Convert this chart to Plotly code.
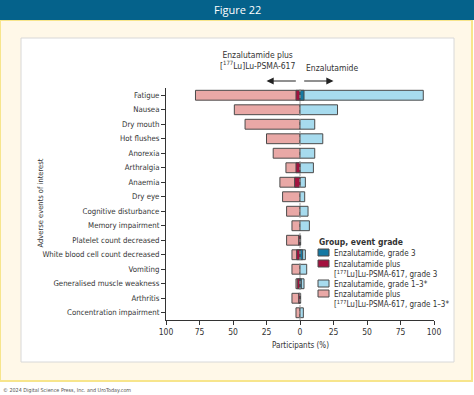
import plotly.graph_objects as go

categories = ["Fatigue", "Nausea", "Dry mouth", "Hot flushes", "Anorexia", "Arthralgia",
              "Anaemia", "Dry eye", "Cognitive disturbance", "Memory impairment",
              "Platelet count decreased", "White blood cell count decreased", "Vomiting",
              "Generalised muscle weakness", "Arthritis", "Concentration impairment"]
# Enzalutamide plus [177Lu]Lu-PSMA-617 (plotted to the left)
combo_grade13 = [78, 49, 41, 25, 20, 10.5, 15, 13, 10, 6, 10, 6, 6, 3, 6, 3]
combo_grade3 = [3, None, None, None, None, 3, 4, None, None, None, 1, 2.5, None, 2, 1, None]
# Enzalutamide alone (plotted to the right)
enza_grade13 = [92, 28, 11, 17, 11, 10, 4, 3.5, 6, 7, 0.5, 4, 5, 3, 0.5, 2.5]
enza_grade3 = [3, None, None, None, None, None, None, None, None, None, None, 2, None, 1, None, None]

tick_vals = [-100, -75, -50, -25, 0, 25, 50, 75, 100]
tick_text = ["100", "75", "50", "25", "0", "25", "50", "75", "100"]

legend_labels = ["Enzalutamide, grade 3",
                 "Enzalutamide plus<br>[<sup>177</sup>Lu]Lu-PSMA-617, grade 3",
                 "Enzalutamide, grade 1–3*",
                 "Enzalutamide plus<br>[<sup>177</sup>Lu]Lu-PSMA-617, grade 1–3*"]

FONT = "Liberation Sans Narrow, Arial Narrow, DejaVu Sans Condensed, sans-serif"
OUT = "#4a4a4a"
PINK = "#e9a8a6"
LBLUE = "#a7dbee"
DRED = "#a3123f"
DBLUE = "#1479a3"
TXT = "#333"

def neg(v):
    return [None if x is None else -x for x in v]

fig = go.Figure()
bar_specs = [(neg(combo_grade13), PINK, legend_labels[3]),
             (enza_grade13, LBLUE, legend_labels[2]),
             (neg(combo_grade3), DRED, legend_labels[1]),
             (enza_grade3, DBLUE, legend_labels[0])]
for xs, col, nm in bar_specs:
    fig.add_trace(go.Bar(y=categories, x=xs, orientation="h", width=0.68, name=nm, showlegend=False,
                         marker=dict(color=col, line=dict(color=OUT, width=1))))

L, R, T, B = 166, 40, 88, 75
W, H = 474, 395
pw, ph = W - L - R, H - T - B
def px(x): return (x - L) / pw
def py(y): return (H - B - y) / ph

shapes = [
    dict(type="rect", xref="paper", yref="paper", x0=px(0), x1=px(472), y0=py(381), y1=py(20),
         fillcolor="#fff8e8", line=dict(color="#f7e58c", width=2), layer="below"),
    dict(type="rect", xref="paper", yref="paper", x0=px(21), x1=px(454), y0=py(362), y1=py(38),
         fillcolor="white", line=dict(color="#d8d8d8", width=1), layer="below"),
    dict(type="rect", xref="paper", yref="paper", x0=px(0), x1=px(474), y0=py(20), y1=py(0),
         fillcolor="#05628b", line=dict(width=0), layer="below"),
    dict(type="line", xref="x", yref="paper", x0=0, x1=0, y0=0, y1=1,
         line=dict(color="#9a9a9a", width=1, dash="dot"), layer="above"),
]

ann = [
    dict(text="Figure 22", x=px(237), y=py(10), xref="paper", yref="paper", showarrow=False,
         font=dict(family="Open Sans", size=11, color="white"), xanchor="center", yanchor="middle"),
    dict(text="Enzalutamide plus<br>[<sup>177</sup>Lu]Lu-PSMA-617", x=-2.5, y=py(61), xref="x", yref="paper",
         showarrow=False, xanchor="right", yanchor="middle", align="center",
         font=dict(family=FONT, size=8.5, color=TXT)),
    dict(text="Enzalutamide", x=3, y=py(68), xref="x", yref="paper", showarrow=False,
         xanchor="left", yanchor="middle", font=dict(family=FONT, size=8.5, color=TXT)),
    dict(text="", x=-25, y=py(81), ax=-2, ay=0, xref="x", yref="paper", axref="x", ayref="pixel",
         showarrow=True, arrowhead=2, arrowsize=1.2, arrowwidth=1.2, arrowcolor="#222"),
    dict(text="", x=25, y=py(81), ax=2, ay=0, xref="x", yref="paper", axref="x", ayref="pixel",
         showarrow=True, arrowhead=2, arrowsize=1.2, arrowwidth=1.2, arrowcolor="#222"),
    dict(text="Adverse events of interest", x=px(33), y=py(203), xref="paper", yref="paper",
         showarrow=False, textangle=-90, font=dict(family=FONT, size=7.5, color=TXT)),
    dict(text="Participants (%)", x=0, y=py(345), xref="x", yref="paper", showarrow=False,
         font=dict(family=FONT, size=8, color=TXT), yanchor="middle"),
    dict(text="© 2024 Digital Science Press, Inc. and UroToday.com", x=px(1), y=py(390), xref="paper",
         yref="paper", showarrow=False, xanchor="left", yanchor="middle",
         font=dict(family=FONT, size=5.4, color="#555")),
    dict(text="<b>Group, event grade</b>", x=px(317), y=py(242), xref="paper", yref="paper",
         showarrow=False, xanchor="left", yanchor="middle", font=dict(family=FONT, size=8.5, color=TXT)),
]

# manual legend: swatch top y and text positions (pixels)
leg_items = [(DBLUE, 249, legend_labels[0], 253),
             (DRED, 260, legend_labels[1], 269),
             (LBLUE, 280, legend_labels[2], 284),
             (PINK, 290, legend_labels[3], 299)]
for col, ytop, txt, ytxt in leg_items:
    shapes.append(dict(type="rect", xref="paper", yref="paper", x0=px(318), x1=px(329),
                       y0=py(ytop + 7), y1=py(ytop), fillcolor=col, line=dict(color=OUT, width=1)))
    ann.append(dict(text=txt, x=px(332), y=py(ytxt), xref="paper", yref="paper", showarrow=False,
                    xanchor="left", yanchor="middle", align="left",
                    font=dict(family=FONT, size=8, color=TXT)))

fig.update_layout(
    width=W, height=H, margin=dict(l=L, r=R, t=T, b=B, autoexpand=False),
    paper_bgcolor="white", plot_bgcolor="rgba(0,0,0,0)",
    barmode="overlay", showlegend=False,
    font=dict(family=FONT, size=9, color=TXT),
    shapes=shapes, annotations=ann,
    xaxis=dict(range=[-100, 100], tickvals=tick_vals, ticktext=tick_text, showgrid=False, zeroline=False,
               showline=True, linecolor=TXT, linewidth=1, ticks="outside", ticklen=4,
               tickcolor=TXT, tickfont=dict(family=FONT, size=8.5, color=TXT)),
    yaxis=dict(autorange="reversed", showgrid=False, zeroline=False, showline=True, linecolor=TXT,
               linewidth=1, ticks="outside", ticklen=4, tickcolor=TXT,
               tickfont=dict(family=FONT, size=7.8, color=TXT)),
)

fig.write_html("out.html", config={"displayModeBar": False},
               post_script="document.body.style.margin='0';document.body.style.overflow='hidden';")
